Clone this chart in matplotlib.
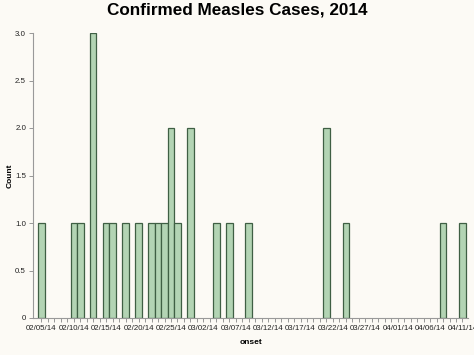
import matplotlib
matplotlib.use('Agg')
import matplotlib.pyplot as plt
import matplotlib.dates as mdates
import numpy as np
from datetime import datetime as dt, timedelta

# onset dates (2014) and number of confirmed cases per day
onset = ['02/05', '02/10', '02/11', '02/13', '02/15', '02/16', '02/18', '02/20',
         '02/22', '02/23', '02/24', '02/25', '02/26', '02/28', '03/04', '03/06',
         '03/09', '03/21', '03/24', '04/08', '04/11']
counts = [1, 1, 1, 3, 1, 1, 1, 1,
          1, 1, 1, 2, 1, 2, 1, 1,
          1, 2, 1, 1, 1]
yticks = [0, 0.5, 1.0, 1.5, 2.0, 2.5, 3.0]
ylabels = ['0', '0.5', '1.0', '1.5', '2.0', '2.5', '3.0']

dates = [dt.strptime(d + '/2014', '%m/%d/%Y') for d in onset]
start = dt(2014, 2, 5)
end = dt(2014, 4, 11)

bg = '#fcfaf5'
plt.rcParams['font.family'] = ['Liberation Sans', 'DejaVu Sans']

fig = plt.figure(figsize=(4.74, 3.55), dpi=100, facecolor=bg)
ax = fig.add_axes([33/474, 1 - 318/355, 435/474, (318 - 33)/355])
ax.set_facecolor(bg)

ax.bar(dates, counts, width=1.0, color='#b3d4b4', edgecolor='#3f5f44', linewidth=0.9)

ax.set_xlim(start - timedelta(days=1.3), end + timedelta(days=0.85))
ax.set_ylim(0, 3.0)

# label every 5 days, small tick every day
majors = [start + timedelta(days=5 * i) for i in range(14)]
ax.set_xticks(majors)
ax.set_xticklabels([d.strftime('%m/%d/%y') for d in majors], fontsize=5.7, color='#222222')
ax.set_xticks([start + timedelta(days=i) for i in range(66)], minor=True)
ax.tick_params(axis='x', which='both', length=3, width=0.6, color='#888888', pad=2)
ax.set_yticks(yticks)
ax.set_yticklabels(ylabels, fontsize=5.7, color='#222222')
ax.tick_params(axis='y', length=3, width=0.6, color='#888888', pad=2)

for s in ['top', 'right']:
    ax.spines[s].set_visible(False)
for s in ['left', 'bottom']:
    ax.spines[s].set_color('#999999')
    ax.spines[s].set_linewidth(0.8)

ax.set_xlabel('onset', fontsize=6, fontweight='bold')
ax.xaxis.set_label_coords(0.5, -0.072)
ax.set_ylabel('Count', fontsize=6, fontweight='bold')
ax.yaxis.set_label_coords(-19/435, 0.5)

fig.text(0.5, 1 - 10/355, 'Confirmed Measles Cases, 2014', ha='center', va='center',
         fontsize=12.3, fontweight='bold')

fig.savefig('out.png', dpi=100, facecolor=bg)
